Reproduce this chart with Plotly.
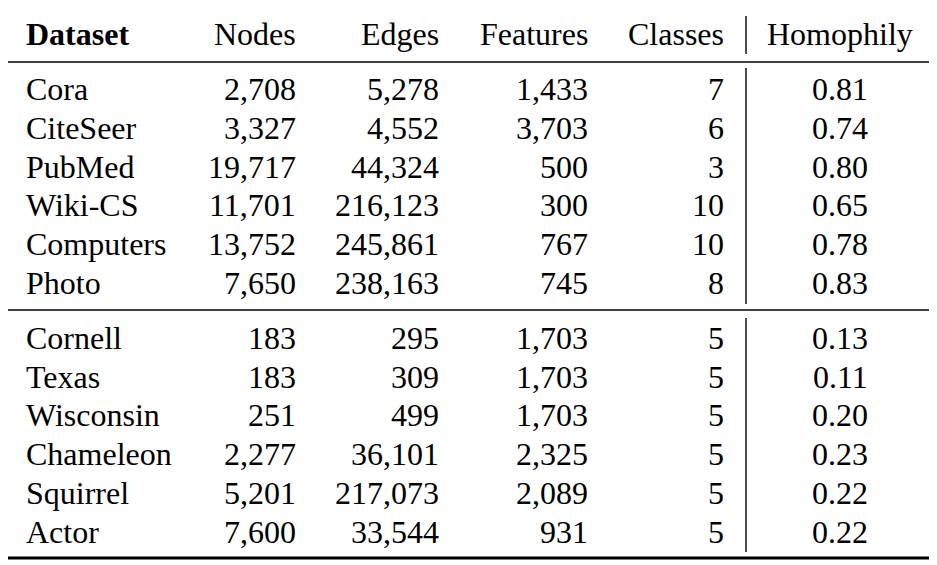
import plotly.graph_objects as go

headers = ["Dataset", "Nodes", "Edges", "Features", "Classes", "Homophily"]
datasets = ["Cora", "CiteSeer", "PubMed", "Wiki-CS", "Computers", "Photo",
            "Cornell", "Texas", "Wisconsin", "Chameleon", "Squirrel", "Actor"]
nodes = ["2,708", "3,327", "19,717", "11,701", "13,752", "7,650",
         "183", "183", "251", "2,277", "5,201", "7,600"]
edges = ["5,278", "4,552", "44,324", "216,123", "245,861", "238,163",
         "295", "309", "499", "36,101", "217,073", "33,544"]
features = ["1,433", "3,703", "500", "300", "767", "745",
            "1,703", "1,703", "1,703", "2,325", "2,089", "931"]
classes = ["7", "6", "3", "10", "10", "8", "5", "5", "5", "5", "5", "5"]
homophily = ["0.81", "0.74", "0.80", "0.65", "0.78", "0.83",
             "0.13", "0.11", "0.20", "0.23", "0.22", "0.22"]

W, H = 937, 565
OFF = 8  # page body margin
FONT = "Liberation Serif"
FS = 32
col_x = [24, 298, 441, 590, 726, 840]
col_anchor = ["left", "right", "right", "right", "right", "center"]
header_y = 34
row_y = [89, 128, 167, 205, 244, 283, 338, 377, 415, 454, 493, 532]

fig = go.Figure()
fig.add_trace(go.Scatter(x=[0, W], y=[0, H], mode="markers",
                         marker=dict(opacity=0), hoverinfo="skip", showlegend=False))

ann = []
for i, h in enumerate(headers):
    txt = f"<b>{h}</b>" if i == 0 else h
    ann.append(dict(x=col_x[i] - OFF, y=header_y - OFF, text=txt, xanchor=col_anchor[i],
                    yanchor="middle", showarrow=False, font=dict(family=FONT, size=FS, color="black")))
cols = [datasets, nodes, edges, features, classes, homophily]
for r, y in enumerate(row_y):
    for c, col in enumerate(cols):
        ann.append(dict(x=col_x[c] - OFF, y=y - OFF, text=col[r], xanchor=col_anchor[c],
                        yanchor="middle", showarrow=False, font=dict(family=FONT, size=FS, color="black")))

shapes = []
for y, w in [(4, 3), (62, 1.6), (310, 1.6), (558, 3)]:
    shapes.append(dict(type="line", x0=6 - OFF, x1=931 - OFF, y0=y - OFF, y1=y - OFF,
                       line=dict(color="black", width=w)))
for y0, y1 in [(16, 54), (68, 304), (318, 552)]:
    shapes.append(dict(type="line", x0=746 - OFF, x1=746 - OFF, y0=y0 - OFF, y1=y1 - OFF,
                       line=dict(color="black", width=1.4)))

fig.update_layout(width=W, height=H, margin=dict(l=0, r=0, t=0, b=0),
                  paper_bgcolor="white", plot_bgcolor="white",
                  xaxis=dict(range=[0, W], visible=False, fixedrange=True),
                  yaxis=dict(range=[H, 0], visible=False, fixedrange=True),
                  annotations=ann, shapes=shapes)
fig.write_html("out.html")
